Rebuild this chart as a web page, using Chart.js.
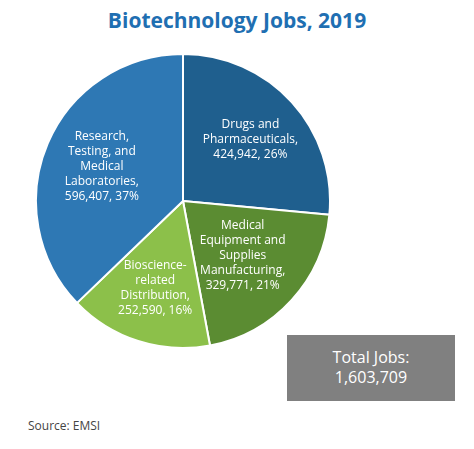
<!DOCTYPE html>
<html><head><meta charset="utf-8">
<script src="https://cdn.jsdelivr.net/npm/chart.js@4"></script>
<style>
body{margin:0;width:474px;height:449px;background:#fff;font-family:"Open Sans",sans-serif;position:relative;overflow:hidden}
#t{position:absolute;top:6px;left:0;width:474px;text-align:center;color:#1f6fb2;font-weight:bold;font-size:21px}
#w{position:absolute;left:35px;top:38px;width:296px;height:326px}
#box{position:absolute;left:287px;top:335px;width:168px;height:66px;background:#808080;color:#fff;text-align:center;font-size:16px;line-height:20px;padding-top:12px;box-sizing:border-box}
#s{position:absolute;left:28px;top:417px;font-size:12px;color:#444}
</style></head><body>
<div id="t">Biotechnology Jobs, 2019</div>
<div id="w"><canvas id="c"></canvas></div>
<div id="box">Total Jobs:<br>1,603,709</div>
<div id="s">Source: EMSI</div>
<script>
const categories=["Drugs and Pharmaceuticals","Medical Equipment and Supplies Manufacturing","Bioscience-related Distribution","Research, Testing, and Medical Laboratories"];
const values=[424942,329771,252590,596407];
const percents=[26,21,16,37];
const labelLines=[["Drugs and","Pharmaceuticals,","424,942, 26%"],["Medical","Equipment and","Supplies","Manufacturing,","329,771, 21%"],["Bioscience-","related","Distribution,","252,590, 16%"],["Research,","Testing, and","Medical","Laboratories,","596,407, 37%"]];
const colors=["#1f5f8e","#5b8c32","#8cc04a","#2e78b4"];
const radF=[0.62,0.55,0.62,0.6];
const lbl={id:"lbl",afterDatasetsDraw(ch){const ctx=ch.ctx;const m=ch.getDatasetMeta(0);ctx.save();ctx.fillStyle="#fff";ctx.font="12px 'Open Sans'";ctx.textAlign="center";ctx.textBaseline="middle";
m.data.forEach((a,i)=>{const mid=(a.startAngle+a.endAngle)/2;const r=a.outerRadius*radF[i];const x=a.x+Math.cos(mid)*r,y=a.y+Math.sin(mid)*r;const L=labelLines[i];L.forEach((t,j)=>ctx.fillText(t,x,y+(j-(L.length-1)/2)*15));});ctx.restore();}};
new Chart(document.getElementById("c"),{type:"pie",data:{labels:categories,datasets:[{data:values,backgroundColor:colors,borderColor:"#fff",borderWidth:2}]},
options:{responsive:true,maintainAspectRatio:false,animation:false,layout:{padding:0},plugins:{legend:{display:false},tooltip:{enabled:false}}},plugins:[lbl]});
</script></body></html>
